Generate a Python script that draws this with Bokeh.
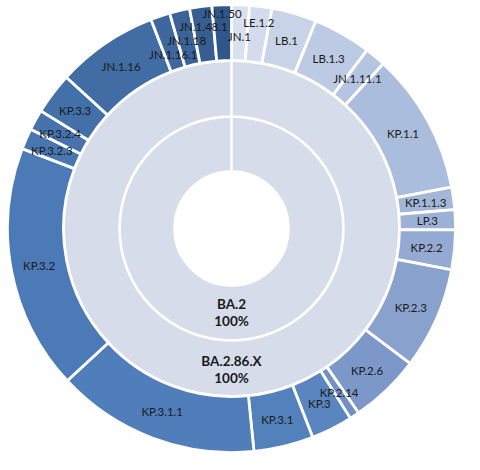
import numpy as np
from bokeh.plotting import figure
from bokeh.models import ColumnDataSource
from bokeh.core.properties import value
from bokeh.embed import file_html
from bokeh.resources import INLINE

# ring data (share of sequences, %), clockwise from 12 o'clock
inner_label = ["BA.2"]
inner_share = [100]
middle_label = ["BA.2.86.X"]
middle_share = [100]

lineages = ["JN.1", "LE.1.2", "LB.1", "LB.1.3", "JN.1.11.1", "KP.1.1", "KP.1.1.3",
            "LP.3", "KP.2.2", "KP.2.3", "KP.2.6", "KP.2.14", "KP.3", "KP.3.1",
            "KP.3.1.1", "KP.3.2", "KP.3.2.3", "KP.3.2.4", "KP.3.3", "JN.1.16",
            "JN.1.16.1", "JN.1.18", "JN.1.48.1", "JN.1.50"]
shares = [1.3, 1.6, 3.25, 4.2, 1.5, 10.2, 1.6, 1.45, 2.85, 7.35, 5.1, 0.7, 3.0, 4.3,
          14.7, 17.7, 1.5, 1.5, 3.0, 7.35, 1.4, 1.45, 1.6, 1.4]

colors = ["#dae1ee", "#d3dbec", "#c8d3e8", "#bccae3", "#b5c4e0", "#abbddc", "#a3b6d8",
          "#9db1d6", "#94aad2", "#89a2cd", "#7b98c8", "#7190c4", "#5a85be", "#5381bc",
          "#4f7eba", "#4b7ab6", "#4876b1", "#4673ad", "#4470a9", "#416ca4",
          "#3e679d", "#3b6398", "#375e91", "#30568a"]
ring_color = "#d6dcea"

# label radius where Excel pushed labels out of the way
label_r = {"JN.1": 192, "LE.1.2": 208, "JN.1.16.1": 183, "JN.1.18": 193,
           "JN.1.48.1": 204, "JN.1.50": 215}

R0, R1, R2, R3 = 57, 112, 168, 224


def wedges(share):
    frac = np.array(share, dtype=float) / sum(share)
    end = np.cumsum(frac)
    start = end - frac
    a0 = np.pi / 2 - start * 2 * np.pi
    a1 = np.pi / 2 - end * 2 * np.pi
    mid = np.pi / 2 - (start + end) * np.pi
    return a0, a1, mid


p = figure(width=464, height=454, x_range=(-231, 233), y_range=(-226, 228),
           output_backend="svg", toolbar_location=None, min_border=0)
p.axis.visible = False
p.grid.visible = False
p.outline_line_color = None
p.background_fill_color = "white"

a0, a1, mid = wedges(inner_share)
p.annular_wedge(x=0, y=0, inner_radius=R0, outer_radius=R1, start_angle=a0, end_angle=a1,
                direction="clock", fill_color=ring_color, line_color="white", line_width=2.5)
a0, a1, mid = wedges(middle_share)
p.annular_wedge(x=0, y=0, inner_radius=R1, outer_radius=R2, start_angle=a0, end_angle=a1,
                direction="clock", fill_color=ring_color, line_color="white", line_width=2.5)

a0, a1, mid = wedges(shares)
r = np.array([label_r.get(n, 196) for n in lineages])
src = ColumnDataSource(dict(a0=a0, a1=a1, c=colors, name=lineages,
                            lx=r * np.cos(mid), ly=r * np.sin(mid)))
p.annular_wedge(x=0, y=0, inner_radius=R2, outer_radius=R3, start_angle="a0", end_angle="a1",
                direction="clock", fill_color="c", line_color="white", line_width=2.8, source=src)
p.text(x="lx", y="ly", text="name", source=src, text_align="center", text_baseline="middle",
       text_font=value("Lato"), text_font_size="11.5px", text_color="#1a1a1a")

# centre labels of the two inner rings, at the bottom (mid-angle of a full ring)
for lab, share, rr in [(inner_label[0], inner_share[0], 84), (middle_label[0], middle_share[0], 141)]:
    p.text(x=[0], y=[-rr + 8.5], text=[lab], text_align="center", text_baseline="middle",
           text_font=value("Lato"), text_font_size="13.5px", text_font_style="bold",
           text_color="#1a1a1a")
    p.text(x=[0], y=[-rr - 8.5], text=[f"{share}%"], text_align="center",
           text_baseline="middle", text_font=value("Lato"), text_font_size="13.5px",
           text_font_style="bold", text_color="#1a1a1a")

open("out.html", "w").write(file_html(p, INLINE))
